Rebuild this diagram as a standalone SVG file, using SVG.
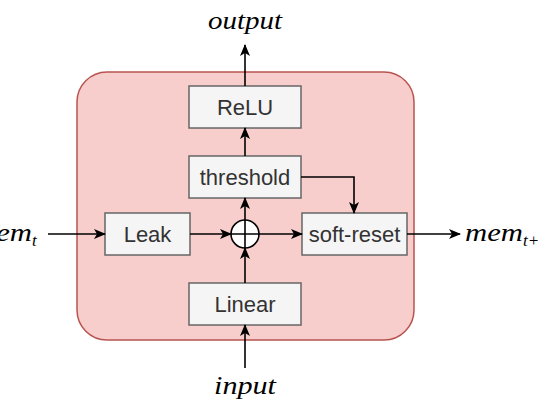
<svg xmlns="http://www.w3.org/2000/svg" width="538" height="416" viewBox="0 0 538 416">
  <style>
    .box{fill:#f5f5f5;stroke:#666666;stroke-width:1.5}
    .lbl{font-family:"Liberation Sans",Arial,sans-serif;font-size:22px;fill:#333333;text-anchor:middle}
    .math{font-family:"Liberation Serif","Times New Roman",serif;font-style:italic;font-size:25px;fill:#000}
    .sub{font-size:17px}
    .edge{stroke:#000;stroke-width:1.6;fill:none;marker-end:url(#arr)}
  </style>
  <defs>
    <marker id="arr" viewBox="0 0 12 10" refX="11" refY="5" markerWidth="12" markerHeight="10" markerUnits="userSpaceOnUse" orient="auto">
      <path d="M0,0 L12,5 L0,10 L3,5 Z" fill="#000"/>
    </marker>
  </defs>
  <g id="container">
    <rect x="77" y="72" width="337" height="268" rx="30" ry="30" fill="#f8cecc" stroke="#b85450" stroke-width="1.5"/>
  </g>
  <g id="relu"><rect class="box" x="189" y="86" width="112" height="42"/><text class="lbl" x="245" y="115">ReLU</text></g>
  <g id="threshold"><rect class="box" x="189" y="156" width="112" height="42"/><text class="lbl" x="245" y="185">threshold</text></g>
  <g id="leak"><rect class="box" x="105" y="213" width="85" height="42"/><text class="lbl" x="147.5" y="242">Leak</text></g>
  <g id="softreset"><rect class="box" x="302" y="213" width="105" height="42"/><text class="lbl" x="354.5" y="242">soft-reset</text></g>
  <g id="linear"><rect class="box" x="189" y="283" width="112" height="42"/><text class="lbl" x="245" y="312">Linear</text></g>
  <g id="sum">
    <circle cx="245" cy="234" r="14" fill="#fff" stroke="#000" stroke-width="1.6"/>
    <path d="M231,234 H259 M245,220 V248" stroke="#000" stroke-width="1.6"/>
  </g>
  <g id="labels">
    <text class="math" x="245" y="29" text-anchor="middle" textLength="74" lengthAdjust="spacingAndGlyphs">output</text>
    <text class="math" x="245" y="394" text-anchor="middle" textLength="62" lengthAdjust="spacingAndGlyphs">input</text>
    <text class="math" x="-26" y="241"><tspan textLength="58" lengthAdjust="spacingAndGlyphs">mem</tspan><tspan class="sub" dy="5">t</tspan></text>
    <text class="math" x="465" y="241"><tspan textLength="58" lengthAdjust="spacingAndGlyphs">mem</tspan><tspan class="sub" dy="5">t+1</tspan></text>
  </g>
  <g id="connectors">
    <path class="edge" d="M48,234 H105"/>
    <path class="edge" d="M190,234 H231"/>
    <path class="edge" d="M259,234 H302"/>
    <path class="edge" d="M245,220 V198"/>
    <path class="edge" d="M245,283 V248"/>
    <path class="edge" d="M245,156 V128"/>
    <path class="edge" d="M245,86 V45"/>
    <path class="edge" d="M245,368 V325"/>
    <path class="edge" d="M407,234 H460"/>
    <path class="edge" d="M301,177 H354 V213"/>
  </g>
</svg>
